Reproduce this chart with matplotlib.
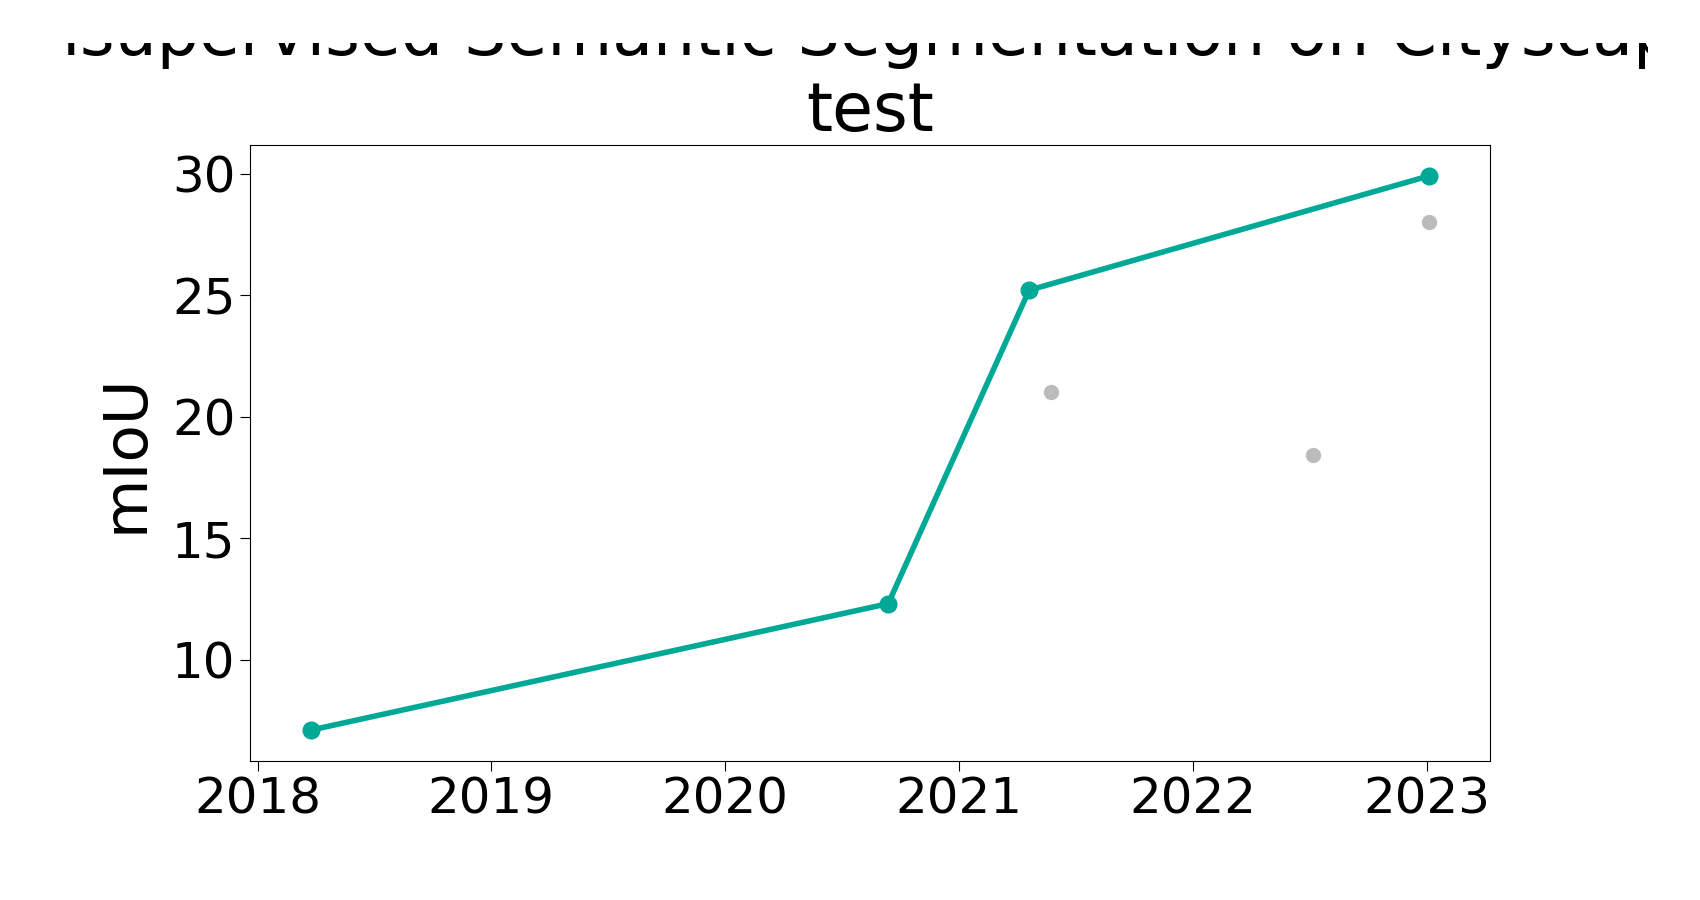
import matplotlib
matplotlib.use('Agg')
import matplotlib.pyplot as plt
import matplotlib.dates as mdates
from matplotlib.transforms import Bbox
import pandas as pd

# best-so-far results (line) and other submissions (grey dots)
best_dates = ['2018-03-26', '2020-09-12', '2021-04-20', '2023-01-04']
best_miou = [7.1, 12.3, 25.2, 29.9]
other_dates = ['2021-05-24', '2022-07-08', '2023-01-04']
other_miou = [21.0, 18.4, 28.0]

TEAL = '#00A896'
GREY = '#BBBBBB'

fig = plt.figure(figsize=(17, 9), dpi=100)
ax = fig.add_axes([250/1700, 1 - 761/900, 1240/1700, 616/900])

ax.plot(pd.to_datetime(other_dates), other_miou, 'o', color=GREY, ms=10, zorder=2)
ax.plot(pd.to_datetime(best_dates), best_miou, '-o', color=TEAL, lw=4, ms=12, zorder=3)
ax.margins(x=0.055, y=0.056)

ax.xaxis.set_major_locator(mdates.YearLocator())
ax.xaxis.set_major_formatter(mdates.DateFormatter('%Y'))
ax.tick_params(labelsize=36, length=7)
ax.set_ylabel('mIoU', fontsize=44, labelpad=12)
title = ax.set_title('Unsupervised Semantic Segmentation on Cityscapes\ntest', fontsize=48, pad=10)
# the original render clips the long first line
title.set_clip_box(Bbox([[67, 0], [1648, 900 - 43]]))
title.set_clip_on(True)

fig.savefig('out.png', dpi=100)
